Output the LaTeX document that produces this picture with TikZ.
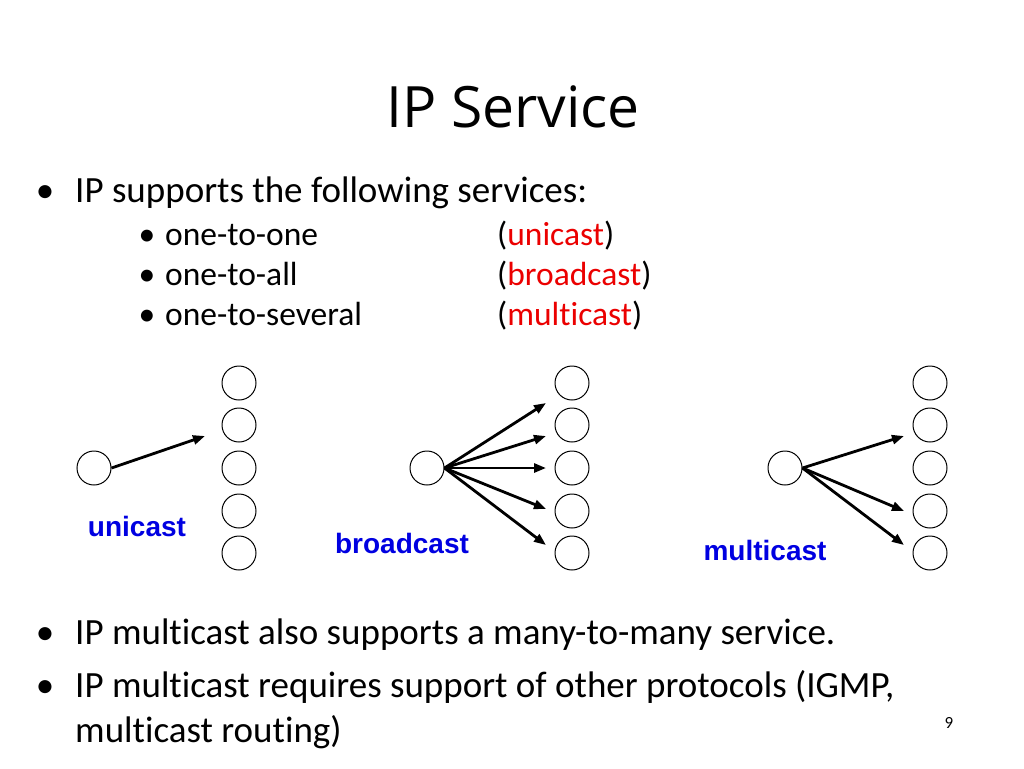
\documentclass[tikz,border=0pt]{standalone}
\usepackage{fontspec}
\setmainfont{Carlito}[RawFeature=-liga]
\newfontfamily\titlefont{Open Sans}
\newfontfamily\arialfont{Liberation Sans}
\usetikzlibrary{arrows.meta}
\definecolor{lblue}{RGB}{0,0,225}
\definecolor{tred}{RGB}{235,0,0}
\begin{document}
\begin{tikzpicture}[x=1pt,y=-1pt,
  txt/.style={inner sep=0pt,anchor=base west,font=\fontsize{37}{44}\selectfont},
  sub/.style={inner sep=0pt,anchor=base west,font=\fontsize{33.5}{40}\selectfont},
  bul/.style={inner sep=0pt,anchor=base,font=\fontsize{37}{44}\selectfont},
  sbul/.style={inner sep=0pt,anchor=base,font=\fontsize{33.5}{40}\selectfont},
  host/.style={circle,draw=black,line width=1pt,minimum size=34pt,inner sep=0pt},
  arr/.style={line width=2.8pt,-{Triangle[length=12pt,width=9pt]}},
  lbl/.style={inner sep=0pt,anchor=base,text=lblue,font=\arialfont\bfseries\fontsize{28}{30}\selectfont}]
\useasboundingbox (0,0) rectangle (1024,768);
% title
\node[inner sep=0pt,anchor=base,font=\titlefont\fontsize{57}{62}\selectfont] (title) at (513,127) {IP Service};
% first bullet
\node[bul] (b1) at (45,202) {•};
\node[txt] (t1) at (75,202) {IP supports the following services:};
\node[sbul] (s1) at (147,245) {•};
\node[sub] (s1t) at (165,245) {one-to-one};
\node[sub] (s1p) at (497,245) {(\textcolor{tred}{unicast})};
\node[sbul] (s2) at (147,285) {•};
\node[sub] (s2t) at (165,285) {one-to-all};
\node[sub] (s2p) at (497,285) {(\textcolor{tred}{broadcast})};
\node[sbul] (s3) at (147,325) {•};
\node[sub] (s3t) at (165,325) {one-to-several};
\node[sub] (s3p) at (497,325) {(\textcolor{tred}{multicast})};
% unicast
\node[host] (u0) at (94,468) {};
\foreach \i/\y in {1/383,2/425,3/468,4/511,5/553} \node[host] (u\i) at (239,\y) {};
\coordinate (ua) at (205,436);
\draw[arr] (u0.east) -- (ua);
\node[lbl] (ul) at (137,536) {unicast};
% broadcast
\node[host] (b0) at (427,468) {};
\foreach \i/\y in {1/383,2/425,3/468,4/511,5/553} \node[host] (bb\i) at (572,\y) {};
\coordinate (ba1) at (546,403);
\coordinate (ba2) at (546,436);
\coordinate (ba3) at (546,468);
\coordinate (ba4) at (546,509);
\coordinate (ba5) at (546,545);
\foreach \i in {1,...,5} \draw[arr] (b0.east) -- (ba\i);
\node[lbl] (bl) at (402,553) {broadcast};
% multicast
\node[host] (m0) at (785,468) {};
\foreach \i/\y in {1/383,2/425,3/468,4/511,5/553} \node[host] (mm\i) at (930,\y) {};
\coordinate (ma1) at (904,436);
\coordinate (ma2) at (904,511);
\coordinate (ma3) at (904,545);
\foreach \i in {1,2,3} \draw[arr] (m0.east) -- (ma\i);
\node[lbl] (ml) at (765,560) {multicast};
% bottom bullets
\node[bul] (b2) at (45,644) {•};
\node[txt] (t2) at (75,644) {IP multicast also supports a many-to-many service.};
\node[bul] (b3) at (45,697) {•};
\node[txt] (t3) at (75,697) {IP multicast requires support of other protocols (IGMP,};
\node[txt] (t4) at (75,742) {multicast routing)};
\node[inner sep=0pt,anchor=base,font=\fontsize{17}{20}\selectfont] (pg) at (949,728) {9};
\end{tikzpicture}
\end{document}
